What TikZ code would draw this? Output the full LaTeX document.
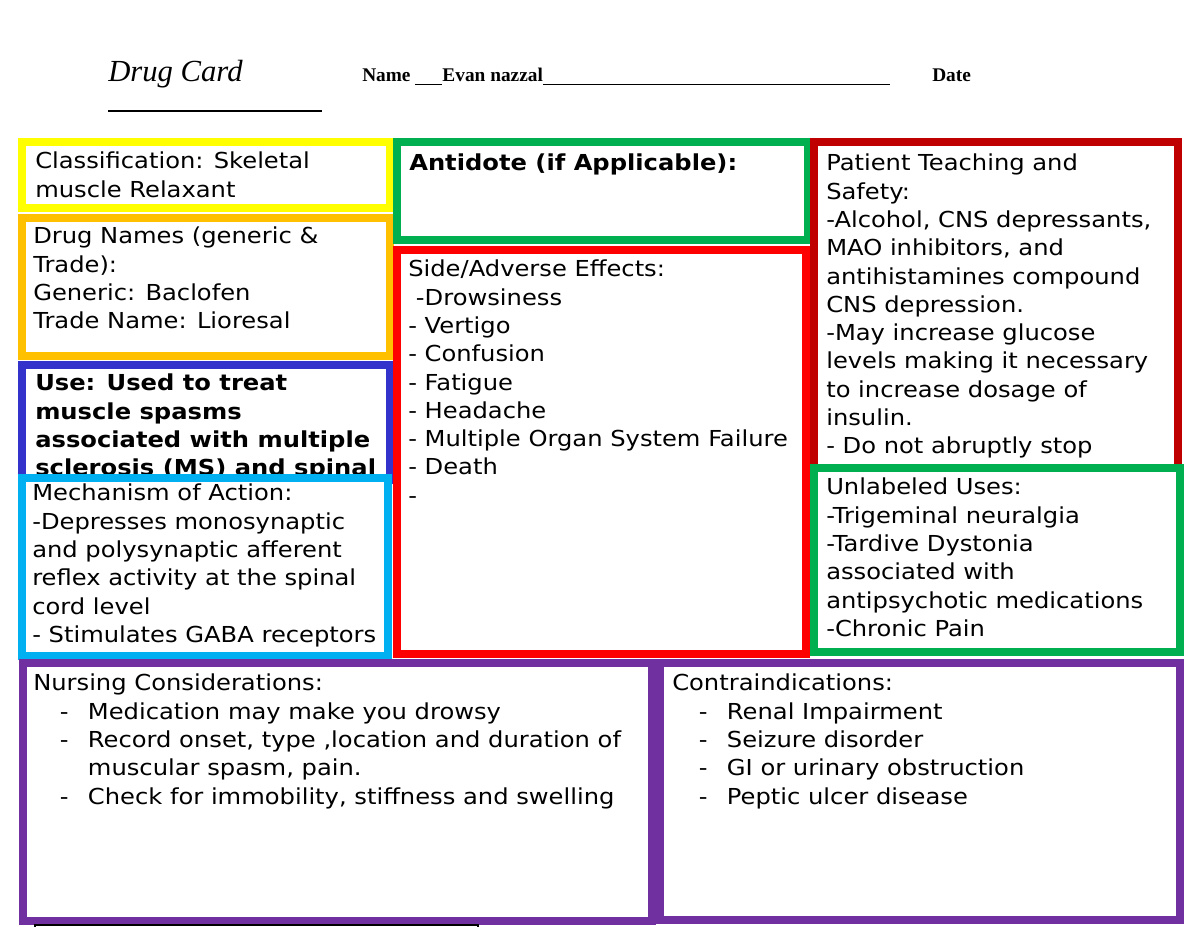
\documentclass[tikz,border=0pt]{standalone}
\usepackage{fontspec}
\setmainfont{DejaVu Sans}[FakeStretch=1.1]
\newfontfamily\tms{Liberation Serif}
\definecolor{cyel}{HTML}{FFFF00}
\definecolor{cora}{HTML}{FFC000}
\definecolor{cblu}{HTML}{3333CC}
\definecolor{ccya}{HTML}{00B0F0}
\definecolor{cgrn}{HTML}{00B050}
\definecolor{cred}{HTML}{FF0000}
\definecolor{cdrd}{HTML}{C00000}
\definecolor{cpur}{HTML}{7030A0}
\newcommand{\li}[1]{\makebox[20pt][l]{}\makebox[21pt][l]{-}#1}
\newcommand{\lc}[1]{\makebox[41pt][l]{}#1}
\begin{document}
\begin{tikzpicture}[x=0.75pt,y=-0.75pt,
  bx/.style={line width=6pt,fill=white,draw=#1},
  tx/.style={anchor=north west,inner sep=0pt,align=left,yshift=-3pt,font=\fontsize{16.5}{21.2}\selectfont}]
\useasboundingbox (0,0) rectangle (1200,927);
\node[anchor=base west,inner sep=0pt,font=\tms\itshape\fontsize{23}{26}\selectfont] (title) at (108,82) {Drug Card};
\draw[line width=1pt] (108,111) -- (322,111);
\node[anchor=base west,inner sep=0pt,font=\tms\bfseries\fontsize{14.5}{16}\selectfont] (name) at (362,82) {Name \underline{\hspace{1.4em}}Evan nazzal\underline{\hspace{260pt}}};
\node[anchor=base west,inner sep=0pt,font=\tms\bfseries\fontsize{14.5}{16}\selectfont] (date) at (932,82) {Date};
% left column
\draw[bx=cyel] (22,142) rectangle (390,208);
\node[tx] (cls) at (35,148) {Classification: Skeletal\\muscle Relaxant};
\draw[bx=cora] (22,218) rectangle (390,356);
\node[tx] (names) at (33,223) {Drug Names (generic \&\\Trade):\\Generic: Baclofen\\Trade Name: Lioresal};
\draw[bx=cblu] (22,365) rectangle (390,480);
\node[tx,font=\bfseries\fontsize{16.5}{21.2}\selectfont] (use) at (35,370) {Use: Used to treat\\muscle spasms\\associated with multiple\\sclerosis (MS) and spinal};
\draw[bx=ccya] (22,478) rectangle (388,656);
\node[tx] (moa) at (32,480) {Mechanism of Action:\\-Depresses monosynaptic\\and polysynaptic afferent\\reflex activity at the spinal\\cord level\\- Stimulates GABA receptors};
% middle
\draw[bx=cgrn] (397,142) rectangle (808,240);
\node[tx,font=\bfseries\fontsize{16.5}{21.2}\selectfont] (anti) at (409,150) {Antidote (if Applicable):};
\draw[bx=cred] (397,250) rectangle (806,654);
\node[tx] (side) at (408,256) {Side/Adverse Effects:\\\ -Drowsiness\\- Vertigo\\- Confusion\\- Fatigue\\- Headache\\- Multiple Organ System Failure\\- Death\\-};
% right
\draw[bx=cdrd] (814,142) rectangle (1178,470);
\node[tx] (pt) at (826,150) {Patient Teaching and\\Safety:\\-Alcohol, CNS depressants,\\MAO inhibitors, and\\antihistamines compound\\CNS depression.\\-May increase glucose\\levels making it necessary\\to increase dosage of\\insulin.\\- Do not abruptly stop};
\draw[bx=cgrn] (814,468) rectangle (1180,652);
\node[tx] (unl) at (826,474) {Unlabeled Uses:\\-Trigeminal neuralgia\\-Tardive Dystonia\\associated with\\antipsychotic medications\\-Chronic Pain};
% bottom
\draw[bx=cpur] (23,663) rectangle (652,921);
\node[tx] (nurs) at (33,670) {Nursing Considerations:\\\li{Medication may make you drowsy}\\\li{Record onset, type ,location and duration of}\\\lc{muscular spasm, pain.}\\\li{Check for immobility, stiffness and swelling}};
\draw[bx=cpur] (660,663) rectangle (1180,920);
\node[tx] (contra) at (672,670) {Contraindications:\\\li{Renal Impairment}\\\li{Seizure disorder}\\\li{GI or urinary obstruction}\\\li{Peptic ulcer disease}};
\draw[line width=1pt,fill=white] (35,925) rectangle (478,935);
\end{tikzpicture}
\end{document}
